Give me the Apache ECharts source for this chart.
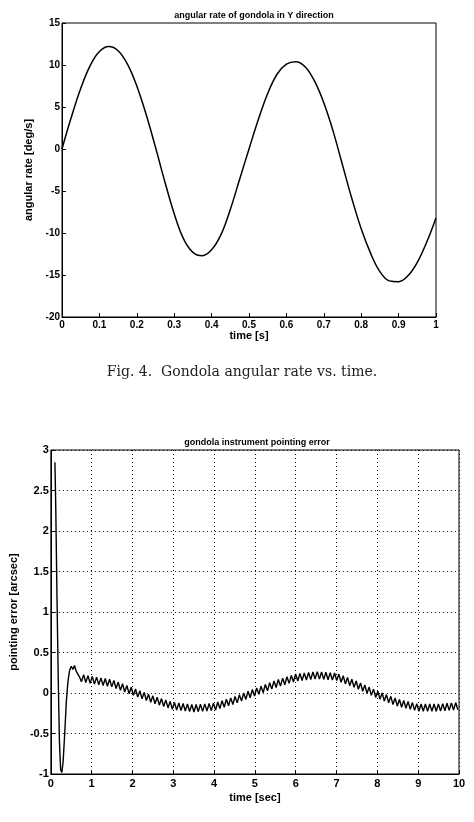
<!DOCTYPE html>
<html><head><meta charset="utf-8">
<script src="https://cdn.jsdelivr.net/npm/echarts@6/dist/echarts.min.js"></script>
<style>html,body{margin:0;padding:0;background:#fff}#main{width:474px;height:822px}</style>
</head><body><div id="main"></div>
<script>
// top chart: angular rate of gondola (deg/s) every 0.025 s
var rateTime = [0,0.025,0.05,0.075,0.1,0.125,0.15,0.175,0.2,0.225,0.25,0.275,0.3,0.325,0.35,0.375,0.4,0.425,0.45,0.475,0.5,0.525,0.55,0.575,0.6,0.625,0.65,0.675,0.7,0.725,0.75,0.775,0.8,0.825,0.85,0.875,0.9,0.925,0.95,0.975,1];
var rateValues = [0,3.8,7.2,9.9,11.6,12.2,11.7,10.1,7.5,4.1,0.2,-3.9,-7.7,-10.7,-12.3,-12.7,-12.0,-10.2,-7.2,-3.6,0,3.5,6.6,8.9,10.1,10.4,9.8,8.1,5.5,2.1,-1.9,-5.9,-9.5,-12.4,-14.6,-15.7,-15.8,-15.1,-13.5,-11.1,-8.2];

// bottom chart: initial transient of pointing error
var transientTime = [0.1,0.12,0.15,0.18,0.21,0.24,0.27,0.3,0.34,0.38,0.42,0.46,0.5,0.54,0.58,0.62,0.66,0.7];
var transientValues = [2.85,2.3,1.2,0.2,-0.6,-0.95,-0.98,-0.85,-0.5,-0.1,0.15,0.28,0.33,0.29,0.34,0.27,0.25,0.2];
// slow trend read every 0.5 s after the transient
var trendTime = [0.7,1,1.5,2,2.5,3,3.5,4,4.5,5,5.5,6,6.5,7,7.5,8,8.5,9,9.5,10];
var trendValues = [0.19,0.16,0.12,0.02,-0.08,-0.16,-0.19,-0.17,-0.09,0.01,0.11,0.19,0.22,0.2,0.1,-0.02,-0.12,-0.18,-0.18,-0.16];
var rippleAmp = 0.045;
var rippleHalfPeriod = 0.053;

function trendAt(t) {
  for (var i = 1; i < trendTime.length; i++) {
    if (t <= trendTime[i]) {
      var f = (t - trendTime[i - 1]) / (trendTime[i] - trendTime[i - 1]);
      return trendValues[i - 1] + f * (trendValues[i] - trendValues[i - 1]);
    }
  }
  return trendValues[trendValues.length - 1];
}

var errorData = transientTime.map(function (t, i) { return [t, transientValues[i]]; });
var sign = -1;
for (var t = 0.75; t <= 10.0001; t += rippleHalfPeriod) {
  errorData.push([t, trendAt(t) + sign * rippleAmp]);
  sign = -sign;
}

var labelFont = { color: '#000', fontFamily: 'Liberation Sans', fontSize: 11, fontWeight: 'bold' };
var chart = echarts.init(document.getElementById('main'));
chart.setOption({
  animation: false,
  title: [
    { text: 'angular rate of gondola in Y direction', left: 249, top: 6, textAlign: 'center',
      textStyle: { fontFamily: 'Liberation Sans', fontSize: 9, fontWeight: 'bold', color: '#000' } },
    { text: 'Fig. 4.  Gondola angular rate vs. time.', left: 237, top: 360, textAlign: 'center',
      textStyle: { fontFamily: 'DejaVu Serif', fontSize: 14, fontWeight: 'normal', color: '#222' } },
    { text: 'gondola instrument pointing error', left: 252, top: 433, textAlign: 'center',
      textStyle: { fontFamily: 'Liberation Sans', fontSize: 9, fontWeight: 'bold', color: '#000' } }
  ],
  grid: [
    { left: 62, top: 23, width: 374, height: 294, show: true, borderColor: '#000', borderWidth: 1 },
    { left: 44, top: 450, width: 415, height: 324, show: true, borderColor: '#000', borderWidth: 1 }
  ],
  xAxis: [
    { gridIndex: 0, type: 'value', min: 0, max: 1, interval: 0.1,
      name: 'time [s]', nameLocation: 'middle', nameGap: 12, nameTextStyle: labelFont,
      axisLine: { onZero: false, lineStyle: { color: '#000' } }, axisTick: { inside: true, length: 4 },
      axisLabel: { color: '#000', fontFamily: 'Liberation Sans', fontSize: 10, fontWeight: 'bold', margin: 3 },
      splitLine: { show: false } },
    { gridIndex: 1, type: 'value', min: 0, max: 10, interval: 1,
      name: 'time [sec]', nameLocation: 'middle', nameGap: 18, nameTextStyle: labelFont,
      axisLine: { onZero: false, lineStyle: { color: '#000' } }, axisTick: { inside: true, length: 4 },
      axisLabel: { color: '#000', fontFamily: 'Liberation Sans', fontSize: 11, fontWeight: 'bold', margin: 4 },
      splitLine: { show: true, lineStyle: { color: '#000', type: [1, 3], width: 1 } } }
  ],
  yAxis: [
    { gridIndex: 0, type: 'value', min: -20, max: 15, interval: 5,
      name: 'angular rate [deg/s]', nameLocation: 'middle', nameGap: 23, nameTextStyle: labelFont,
      axisLine: { onZero: false, lineStyle: { color: '#000' } }, axisTick: { inside: true, length: 4 },
      axisLabel: { color: '#000', fontFamily: 'Liberation Sans', fontSize: 10, fontWeight: 'bold', margin: 2 },
      splitLine: { show: false } },
    { gridIndex: 1, type: 'value', min: -1, max: 3, interval: 0.5,
      name: 'pointing error [arcsec]', nameLocation: 'middle', nameGap: 22, nameTextStyle: labelFont,
      axisLine: { onZero: false, lineStyle: { color: '#000' } }, axisTick: { inside: true, length: 4 },
      axisLabel: { color: '#000', fontFamily: 'Liberation Sans', fontSize: 11, fontWeight: 'bold', margin: 2 },
      splitLine: { show: true, lineStyle: { color: '#000', type: [1, 3], width: 1 } } }
  ],
  series: [
    { type: 'line', xAxisIndex: 0, yAxisIndex: 0, smooth: 0.4, showSymbol: false,
      lineStyle: { color: '#000', width: 1.5 },
      data: rateTime.map(function (t, i) { return [t, rateValues[i]]; }) },
    { type: 'line', xAxisIndex: 1, yAxisIndex: 1, showSymbol: false,
      lineStyle: { color: '#000', width: 1.4 }, data: errorData }
  ]
});
</script></body></html>
